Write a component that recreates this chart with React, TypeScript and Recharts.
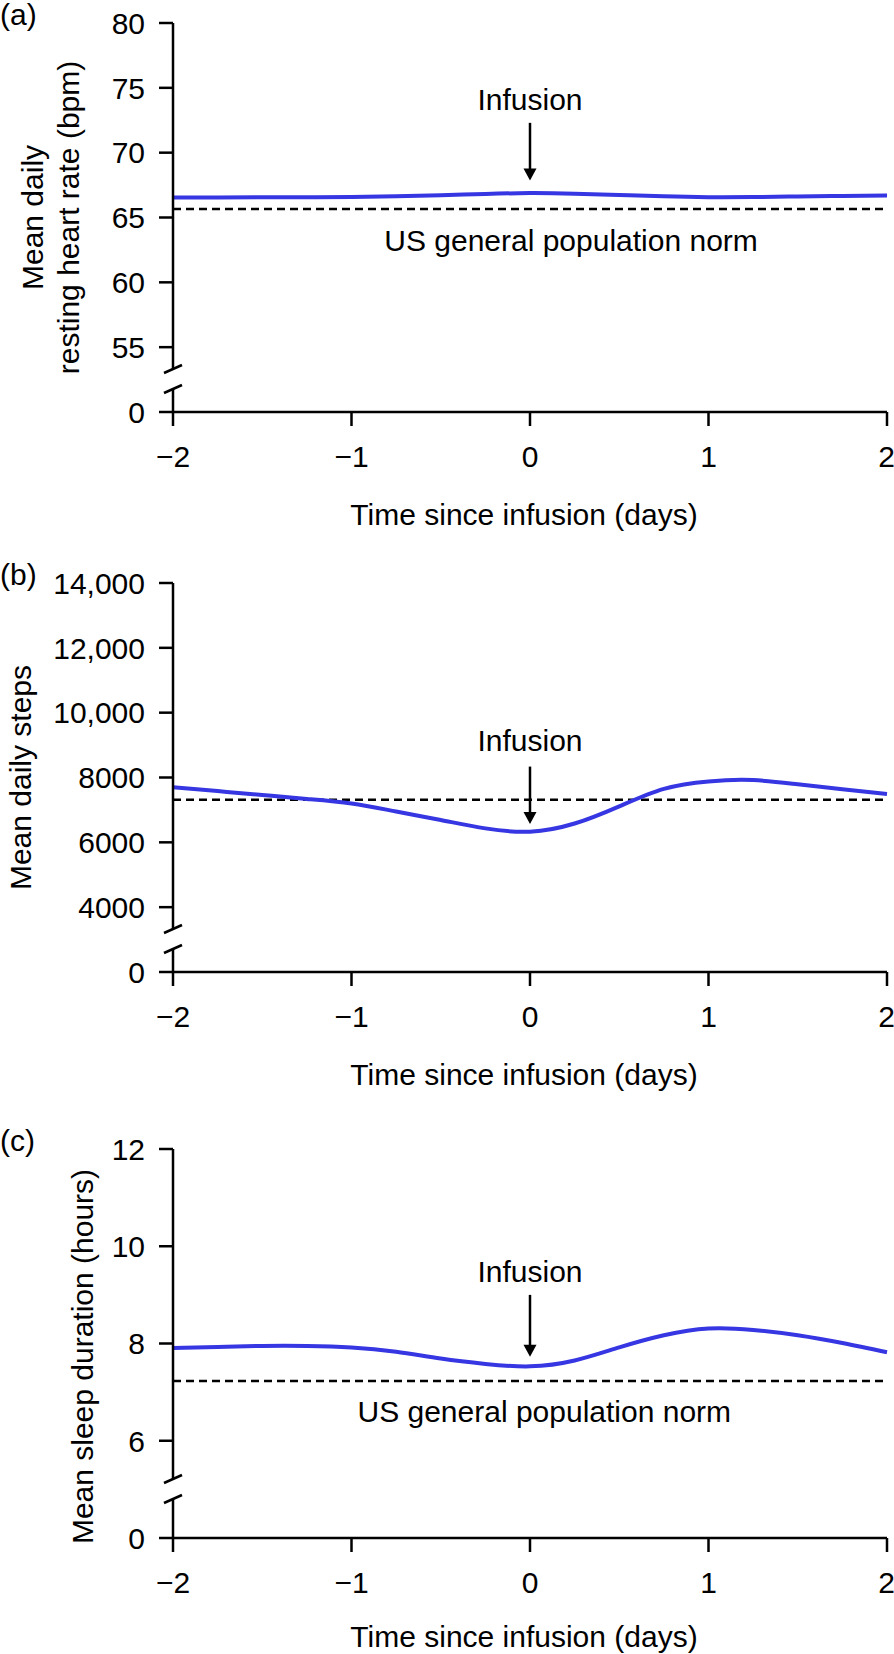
import { LineChart, Line, XAxis, YAxis, ReferenceLine, ReferenceDot } from 'recharts';

const FONT = '"Liberation Sans", Arial, Helvetica, sans-serif';
const BLUE = '#3636e2';

// days since infusion (read every quarter day off the curves)
const days = [-2, -1.75, -1.5, -1.25, -1, -0.75, -0.5, -0.25, 0, 0.25, 0.5, 0.75, 1, 1.25, 1.5, 1.75, 2];
const heartRate = [66.55, 66.55, 66.56, 66.57, 66.58, 66.64, 66.72, 66.82, 66.88, 66.84, 66.74, 66.63, 66.57, 66.58, 66.62, 66.66, 66.7];
const steps = [7700, 7580, 7460, 7340, 7200, 6950, 6690, 6430, 6330, 6580, 7110, 7650, 7880, 7920, 7790, 7640, 7490];
const sleep = [7.91, 7.93, 7.95, 7.95, 7.92, 7.83, 7.69, 7.58, 7.53, 7.65, 7.92, 8.17, 8.31, 8.28, 8.17, 8.01, 7.82];

const heartNorm = 65.65;
const stepsNorm = 7310;
const sleepNorm = 7.23;

const dayTicks = [-2, -1, 0, 1, 2];
// lowest tick sits below the axis break and reads "0"
const heartTicks = [50, 55, 60, 65, 70, 75, 80];
const heartTickLabels = ['0', '55', '60', '65', '70', '75', '80'];
const stepsTicks = [2000, 4000, 6000, 8000, 10000, 12000, 14000];
const stepsTickLabels = ['0', '4000', '6000', '8000', '10,000', '12,000', '14,000'];
const sleepTicks = [4, 6, 8, 10, 12];
const sleepTickLabels = ['0', '6', '8', '10', '12'];

const fmtDay = (v: number) => (v < 0 ? `\u2212${Math.abs(v)}` : String(v));

const YTick = (props: any) => {
  const { x, y, payload, ticks, labels, brk } = props;
  const i = ticks.indexOf(payload.value);
  const ax = x + 28;
  return (
    <g>
      {i === 0 && (
        <g>
          <rect x={ax - 5} y={y - brk[0]} width={10} height={brk[0] - brk[1]} fill="#fff" />
          <line x1={ax - 9} y1={y - brk[0] + 4} x2={ax + 9} y2={y - brk[0] - 4} stroke="#000" strokeWidth={2.5} />
          <line x1={ax - 9} y1={y - brk[1] + 4} x2={ax + 9} y2={y - brk[1] - 4} stroke="#000" strokeWidth={2.5} />
        </g>
      )}
      <text x={x} y={y} dy="0.36em" textAnchor="end" fontSize={30} fill="#000" fontFamily={FONT}>
        {labels[i]}
      </text>
    </g>
  );
};

const Arrow = (p: any) => (
  <g>
    <line x1={p.x1} y1={p.y1} x2={p.x2} y2={p.y2 - 11} stroke="#000" strokeWidth={2.5} />
    <polygon points={`${p.x2 - 6.5},${p.y2 - 12} ${p.x2 + 6.5},${p.y2 - 12} ${p.x2},${p.y2}`} fill="#000" />
  </g>
);

const textShape = (label: string) => (p: any) => (
  <text x={p.cx} y={p.cy} dy="0.36em" textAnchor="middle" fontSize={30} fill="#000" fontFamily={FONT}>
    {label}
  </text>
);

const yTitle = (lines: string[], xs: number[], dy: number) => (p: any) => {
  const vb = p.viewBox || { x: 0, y: 23, width: 173, height: 389 };
  const cy = vb.y + vb.height / 2 + dy;
  return (
    <g>
      {lines.map((s, k) => (
        <text
          key={k}
          x={xs[k]}
          y={cy}
          dy="0.36em"
          textAnchor="middle"
          fontSize={30}
          fill="#000"
          fontFamily={FONT}
          transform={`rotate(-90, ${xs[k]}, ${cy})`}
        >
          {s}
        </text>
      ))}
    </g>
  );
};

interface PanelProps {
  top: number;
  letter: string;
  values: number[];
  yTicks: number[];
  yLabels: string[];
  norm: number;
  brk: number[];
  title: string[];
  titleX: number[];
  titleDy: number;
  xTitleOffset: number;
  infusion: number[];
  normText?: number[];
}

function Panel({
  top,
  letter,
  values,
  yTicks,
  yLabels,
  norm,
  brk,
  title,
  titleX,
  titleDy,
  xTitleOffset,
  infusion,
  normText,
}: PanelProps) {
  const data = days.map((d, i) => ({ day: d, v: values[i] }));
  const axisStyle = { stroke: '#000', strokeWidth: 2.5 };
  return (
    <div style={{ position: 'absolute', left: 0, top }}>
      <div
        style={{
          position: 'absolute',
          left: 0,
          top: 0,
          fontSize: 30,
          lineHeight: '30px',
          fontFamily: FONT,
          color: '#000',
        }}
      >
        {letter}
      </div>
      <LineChart width={894} height={545} data={data} margin={{ top: 23, right: 7, left: 0, bottom: 0 }}>
        <XAxis
          dataKey="day"
          type="number"
          domain={[-2, 2]}
          ticks={dayTicks}
          tickFormatter={fmtDay}
          height={133}
          tickSize={14}
          tickMargin={20}
          axisLine={axisStyle}
          tickLine={axisStyle}
          tick={{ fontSize: 30, fill: '#000', fontFamily: FONT }}
          label={{
            value: 'Time since infusion (days)',
            position: 'insideBottom',
            offset: xTitleOffset,
            dx: -6,
            fontSize: 30,
            fill: '#000',
            fontFamily: FONT,
          }}
        />
        <YAxis
          type="number"
          domain={[yTicks[0], yTicks[yTicks.length - 1]]}
          ticks={yTicks}
          width={173}
          tickSize={14}
          tickMargin={14}
          axisLine={axisStyle}
          tickLine={axisStyle}
          tick={(p: any) => <YTick {...p} ticks={yTicks} labels={yLabels} brk={brk} />}
          label={{ content: yTitle(title, titleX, titleDy) }}
        />
        <ReferenceLine y={norm} stroke="#000" strokeWidth={2.5} strokeDasharray="8 5" />
        <Line type="natural" dataKey="v" stroke={BLUE} strokeWidth={4} dot={false} isAnimationActive={false} />
        <ReferenceLine
          segment={[
            { x: 0, y: infusion[1] },
            { x: 0, y: infusion[2] },
          ]}
          shape={Arrow}
          ifOverflow="visible"
        />
        <ReferenceDot x={0} y={infusion[0]} r={0} shape={textShape('Infusion')} ifOverflow="visible" />
        {normText && (
          <ReferenceDot
            x={normText[0]}
            y={normText[1]}
            r={0}
            shape={textShape('US general population norm')}
            ifOverflow="visible"
          />
        )}
      </LineChart>
    </div>
  );
}

export default function App() {
  return (
    <div style={{ position: 'absolute', left: 0, top: 0, width: 894, height: 1654, background: '#fff', overflow: 'hidden' }}>
      <Panel
        top={0}
        letter="(a)"
        values={heartRate}
        yTicks={heartTicks}
        yLabels={heartTickLabels}
        norm={heartNorm}
        brk={[43, 23]}
        title={['Mean daily', 'resting heart rate (bpm)']}
        titleX={[32, 68]}
        titleDy={0}
        xTitleOffset={20}
        infusion={[74.15, 72.3, 67.85]}
        normText={[0.23, 63.23]}
      />
      <Panel
        top={560}
        letter="(b)"
        values={steps}
        yTicks={stepsTicks}
        yLabels={stepsTickLabels}
        norm={stepsNorm}
        brk={[43, 23]}
        title={['Mean daily steps']}
        titleX={[20]}
        titleDy={0}
        xTitleOffset={20}
        infusion={[9140, 8337, 6566]}
      />
      <Panel
        top={1126}
        letter="(c)"
        values={sleep}
        yTicks={sleepTicks}
        yLabels={sleepTickLabels}
        norm={sleepNorm}
        brk={[59, 39]}
        title={['Mean sleep duration (hours)']}
        titleX={[82]}
        titleDy={13}
        xTitleOffset={24}
        infusion={[9.48, 9.0, 7.73]}
        normText={[0.08, 6.6]}
      />
    </div>
  );
}
